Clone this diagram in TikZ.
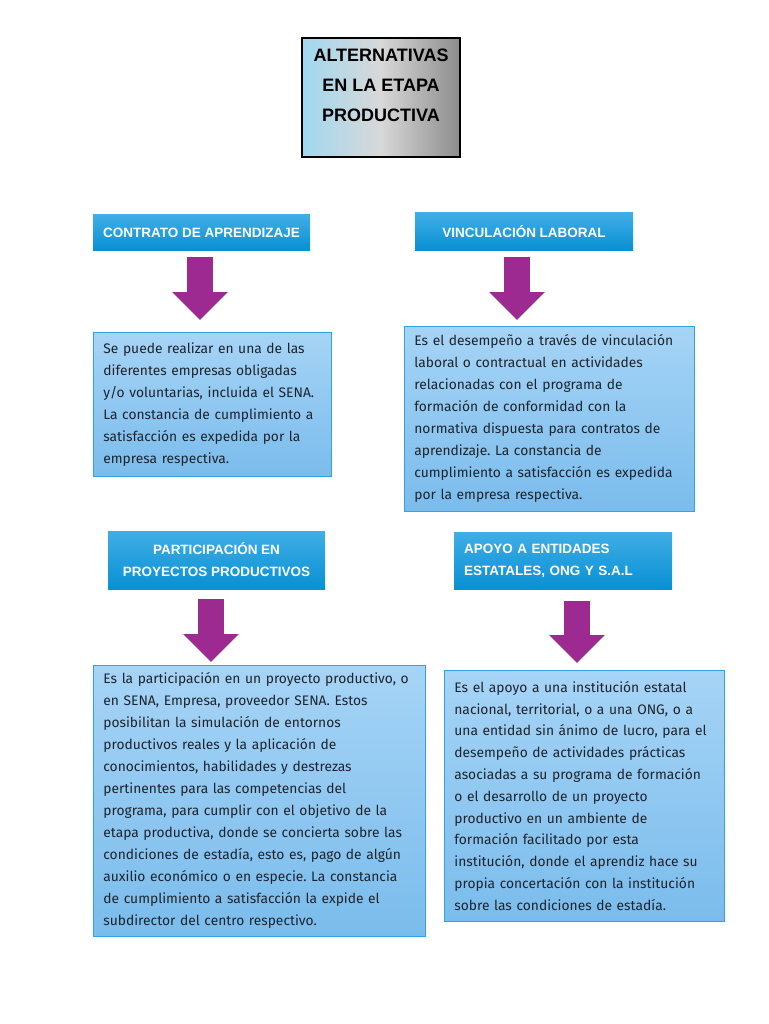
\documentclass[tikz,border=0pt]{standalone}
\usepackage{fontspec}
\setmainfont{Fira Sans}
\newfontfamily\headfont{Liberation Sans}
\frenchspacing
\usetikzlibrary{arrows.meta}
\definecolor{titleblue}{RGB}{160,216,240}
\definecolor{titlegray}{RGB}{216,216,216}
\definecolor{titledark}{RGB}{140,140,140}
\definecolor{headtop}{RGB}{64,174,230}
\definecolor{headbot}{RGB}{8,144,212}
\definecolor{bodytop}{RGB}{166,212,246}
\definecolor{bodybot}{RGB}{122,188,236}
\definecolor{bodyline}{RGB}{48,164,222}
\definecolor{bodytext}{RGB}{30,36,44}
\definecolor{arrowcol}{RGB}{156,42,144}
\tikzset{
  titlebox/.style={draw=black,line width=1.5pt,left color=titleblue,right color=titledark,middle color=titlegray,minimum width=158pt,minimum height=119pt,inner sep=0pt},
  headbox/.style={top color=headtop,bottom color=headbot,text=white,font=\headfont\bfseries\fontsize{13.5}{22}\selectfont,inner sep=0pt},
  bodybox/.style={draw=bodyline,line width=0.8pt,top color=bodytop,bottom color=bodybot,text=bodytext,font=\fontsize{13.8}{22}\selectfont,align=left,inner xsep=10pt,inner ysep=0pt,anchor=north west},
  bigarrow/.style={arrowcol,line width=26pt,-{Triangle[length=28pt,width=54pt]}},
}
\begin{document}
\begin{tikzpicture}[x=1pt,y=-1pt]
\useasboundingbox (0,0) rectangle (768,1024);
  % Node: title
  \node[titlebox,label={[align=center,font=\headfont\bfseries\fontsize{18}{30}\selectfont,yshift=12pt]center:ALTERNATIVAS\\EN LA ETAPA\\PRODUCTIVA}] (title) at (381,97.5) {};
  % Node: contrato
  \node[headbox,minimum width=217pt,minimum height=35pt] (contrato) at (201.5,232.5) {CONTRATO DE APRENDIZAJE};
  % Node: vinculacion
  \node[headbox,minimum width=218pt,minimum height=37pt] (vinculacion) at (524,231.5) {VINCULACIÓN LABORAL};
  % Node: participacion
  \node[headbox,minimum width=217pt,minimum height=58pt,align=center] (participacion) at (216.5,560) {PARTICIPACIÓN EN\\PROYECTOS PRODUCTIVOS};
  % Node: apoyo
  \node[headbox,minimum width=218pt,minimum height=57pt,align=left,text width=198pt,inner xsep=10pt] (apoyo) at (563,560.5) {APOYO A ENTIDADES\\ESTATALES, ONG Y S.A.L};
  % Node: contratotxt
  \node[bodybox,minimum width=238pt,minimum height=144pt,text width=218pt] (contratotxt) at (93,332) {Se puede realizar en una de las\\diferentes empresas obligadas\\y/o voluntarias, incluida el SENA.\\La constancia de cumplimiento a\\satisfacción es expedida por la\\empresa respectiva.};
  % Node: vinculaciontxt
  \node[bodybox,minimum width=290pt,minimum height=185pt,text width=270pt] (vinculaciontxt) at (404,326) {Es el desempeño a través de vinculación\\laboral o contractual en actividades\\relacionadas con el programa de\\formación de conformidad con la\\normativa dispuesta para contratos de\\aprendizaje. La constancia de\\cumplimiento a satisfacción es expedida\\por la empresa respectiva.};
  % Node: participaciontxt
  \node[bodybox,minimum width=332pt,minimum height=271pt,text width=312pt] (participaciontxt) at (93,665) {Es la participación en un proyecto productivo, o\\en SENA, Empresa, proveedor SENA. Estos\\posibilitan la simulación de entornos\\productivos reales y la aplicación de\\conocimientos, habilidades y destrezas\\pertinentes para las competencias del\\programa, para cumplir con el objetivo de la\\etapa productiva, donde se concierta sobre las\\condiciones de estadía, esto es, pago de algún\\auxilio económico o en especie. La constancia\\de cumplimiento a satisfacción la expide el\\subdirector del centro respectivo.};
  % Node: apoyotxt
  \node[bodybox,minimum width=280pt,minimum height=251pt,text width=260pt,font=\fontsize{13.8}{21.8}\selectfont] (apoyotxt) at (444,670) {Es el apoyo a una institución estatal\\nacional, territorial, o a una ONG, o a\\una entidad sin ánimo de lucro, para el\\desempeño de actividades prácticas\\asociadas a su programa de formación\\o el desarrollo de un proyecto\\productivo en un ambiente de\\formación facilitado por esta\\institución, donde el aprendiz hace su\\propia concertación con la institución\\sobre las condiciones de estadía.};
  % Edge: contrato -> contratotxt
  \coordinate (a1) at ([xshift=-1.5pt]contrato.south);
  \draw[bigarrow,shorten <=7pt,shorten >=12pt] (a1) -- (a1 |- contratotxt.north);
  % Edge: vinculacion -> vinculaciontxt
  \coordinate (a2) at ([xshift=-7pt]vinculacion.south);
  \draw[bigarrow,shorten <=7pt,shorten >=6pt] (a2) -- (a2 |- vinculaciontxt.north);
  % Edge: participacion -> participaciontxt
  \coordinate (a3) at ([xshift=-5.5pt]participacion.south);
  \draw[bigarrow,shorten <=10pt,shorten >=3pt] (a3) -- (a3 |- participaciontxt.north);
  % Edge: apoyo -> apoyotxt
  \coordinate (a4) at ([xshift=14pt]apoyo.south);
  \draw[bigarrow,shorten <=12pt,shorten >=7pt] (a4) -- (a4 |- apoyotxt.north);
\end{tikzpicture}
\end{document}
